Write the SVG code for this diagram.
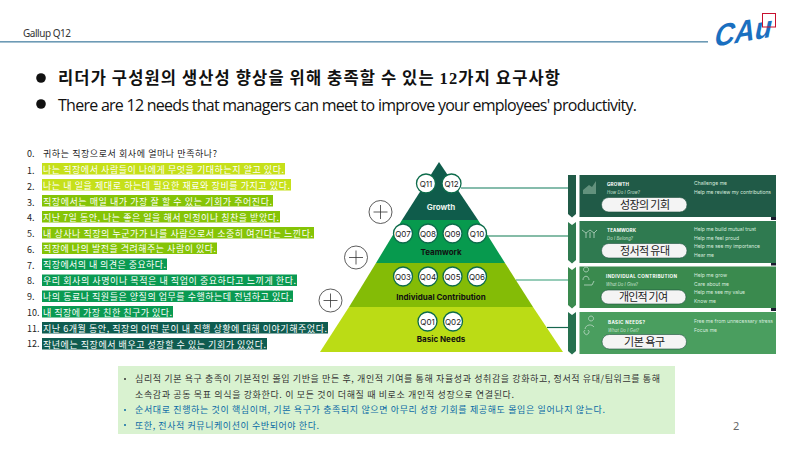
<svg xmlns="http://www.w3.org/2000/svg" width="800" height="450" viewBox="0 0 800 450">
<style>
text{font-family:"Noto Sans CJK KR","Noto Sans",sans-serif}
.num{font-size:9px;fill:#222}
.q{font-size:9px;fill:#fff}
.c{fill:#fff;stroke:#0c6b4a;stroke-width:1.3}
.ql{font-family:"Inter","Noto Sans",sans-serif;font-size:8px;font-weight:400;fill:#222;text-anchor:middle}
.lvl{font-family:"Inter","Noto Sans",sans-serif;font-size:8px;font-weight:700;text-anchor:middle}
.plus{fill:#fff;stroke:#333;stroke-width:.8}
.pl{stroke:#333;stroke-width:.8;fill:none}
.pt{font-family:"Inter","Noto Sans",sans-serif;font-size:4.6px;font-weight:700;fill:#fff}
.ps{font-family:"Inter","Noto Sans",sans-serif;font-size:4.2px;font-style:italic;fill:#cfe6d6}
.pr{font-family:"Inter","Noto Sans",sans-serif;font-size:5px;fill:#d8ecdf}
.pill{fill:#f4f4f4;stroke:#1c4f3e;stroke-width:.6}
.pk{font-size:11px;fill:#222}
.ic{fill:none;stroke:#bcd8c6;stroke-width:.8}
.b{font-size:9px;fill:#333}
.bb{font-size:9px;fill:#0a6aa5}
.lk{fill:none;stroke-width:1.2}
</style>
<rect width="800" height="450" fill="#fff"/>
<g id="header">
<text x="23" y="37" font-size="10" fill="#333" style="font-family:'Noto Sans',sans-serif" textLength="48">Gallup Q12</text>
<rect x="0" y="41" width="708" height="1.600" fill="#6d9ab5"/>
<text transform="translate(713 47) rotate(-10) skewX(-22)" font-size="30" font-weight="700" fill="#1a6fc0" style="font-family:'Liberation Sans',sans-serif" textLength="58" lengthAdjust="spacingAndGlyphs">CAu</text>
<rect x="762.500" y="13.500" width="13" height="13.500" fill="none" stroke="#c8102e" stroke-width="1"/>
</g>
<g id="title">
<circle cx="41" cy="78" r="4.800" fill="#111"/>
<text x="58" y="84" font-size="16.500" font-weight="700" fill="#111" textLength="502">리더가 구성원의 생산성 향상을 위해 충족할 수 있는 <tspan style="font-family:'Liberation Serif',serif">12</tspan>가지 요구사항</text>
<circle cx="41" cy="104" r="4.800" fill="#111"/>
<text x="58" y="111" font-size="16" fill="#111" style="font-family:'Open Sans',sans-serif" textLength="579">There are 12 needs that managers can meet to improve your employees' productivity.</text>
</g>
<g id="question-list">
<g fill="#c6e01a"><rect x="42" y="163" width="243" height="11.500"/><rect x="42" y="179" width="249" height="11.500"/></g>
<g fill="#85c406"><rect x="42" y="195" width="231" height="11.500"/><rect x="42" y="211" width="238" height="11.500"/><rect x="42" y="227" width="272" height="11.500"/><rect x="42" y="242.500" width="175" height="11.500"/></g>
<g fill="#0a9a52"><rect x="42" y="258.500" width="125" height="11.500"/><rect x="42" y="274.500" width="255" height="11.500"/><rect x="42" y="290.500" width="251" height="11.500"/><rect x="42" y="306" width="131" height="11.500"/></g>
<g fill="#0f5c50"><rect x="42" y="322" width="286" height="11.500"/><rect x="42" y="338" width="225" height="11.500"/></g>
<text class="num" x="27" y="157">0.</text><text x="43" y="157" font-size="9" fill="#222" textLength="174">귀하는 직장으로서 회사에 얼마나 만족하나?</text>
<text class="num" x="27" y="174">1.</text><text class="q" x="43" y="172.500" textLength="241">나는 직장에서 사람들이 나에게 무엇을 기대하는지 알고 있다.</text>
<text class="num" x="27" y="190">2.</text><text class="q" x="43" y="188.500" textLength="247">나는 내 일을 제대로 하는데 필요한 재료와 장비를 가지고 있다.</text>
<text class="num" x="27" y="206">3.</text><text class="q" x="43" y="204.500" textLength="229">직장에서는 매일 내가 가장 잘 할 수 있는 기회가 주어진다.</text>
<text class="num" x="27" y="221">4.</text><text class="q" x="43" y="220.500" textLength="236">지난 7일 동안, 나는 좋은 일을 해서 인정이나 칭찬을 받았다.</text>
<text class="num" x="27" y="237">5.</text><text class="q" x="43" y="236.500" textLength="270">내 상사나 직장의 누군가가 나를 사람으로서 소중히 여긴다는 느낀다.</text>
<text class="num" x="27" y="253">6.</text><text class="q" x="43" y="252" textLength="173">직장에 나의 발전을 격려해주는 사람이 있다.</text>
<text class="num" x="27" y="269">7.</text><text class="q" x="43" y="268" textLength="123">직장에서의 내 의견은 중요하다.</text>
<text class="num" x="27" y="284">8.</text><text class="q" x="43" y="284" textLength="253">우리 회사의 사명이나 목적은 내 직업이 중요하다고 느끼게 한다.</text>
<text class="num" x="27" y="300">9.</text><text class="q" x="43" y="300" textLength="249">나의 동료나 직원들은 양질의 업무를 수행하는데 전념하고 있다.</text>
<text class="num" x="27" y="316">10.</text><text class="q" x="43" y="315.500" textLength="129">내 직장에 가장 친한 친구가 있다.</text>
<text class="num" x="27" y="332">11.</text><text class="q" x="43" y="331.500" textLength="284">지난 6개월 동안, 직장의 어떤 분이 내 진행 상황에 대해 이야기해주었다.</text>
<text class="num" x="27" y="347">12.</text><text class="q" x="43" y="347.500" textLength="223">작년에는 직장에서 배우고 성장할 수 있는 기회가 있었다.</text>
</g>
<g id="connectors">
<path class="lk" stroke="#0f7a5a" d="M461 188H568"/>
<path class="lk" stroke="#0c7a50" d="M487 236H568"/>
<path class="lk" stroke="#2f9a72" d="M516 280H568"/>
<path class="lk" stroke="#17674f" d="M547 327.500H568"/>
</g>
<g id="pyramid-growth"><path d="M439 162L402 220H478Z" fill="#0f5c4b"/><text class="lvl" x="441" y="210" fill="#eaf3ee">Growth</text></g>
<g id="pyramid-teamwork"><path d="M402 220H478L505 263H376Z" fill="#079a4e"/><text class="lvl" x="441" y="255" fill="#111">Teamwork</text></g>
<g id="pyramid-individual"><path d="M376 263H505L533 307H349Z" fill="#84bc06"/><text class="lvl" x="441" y="300" fill="#111">Individual Contribution</text></g>
<g id="pyramid-basic"><path d="M349 307H533L563 352H320Z" fill="#bbdc15"/><text class="lvl" x="441" y="342" fill="#111">Basic Needs</text></g>
<g id="Q11"><circle class="c" cx="426" cy="183.500" r="9.500"/><text class="ql" x="426" y="186.500">Q11</text></g>
<g id="Q12"><circle class="c" cx="451.500" cy="183.500" r="9.500"/><text class="ql" x="451.500" y="186.500">Q12</text></g>
<g id="Q07"><circle class="c" cx="403" cy="233.500" r="9.500"/><text class="ql" x="403" y="236.500">Q07</text></g>
<g id="Q08"><circle class="c" cx="428" cy="233.500" r="9.500"/><text class="ql" x="428" y="236.500">Q08</text></g>
<g id="Q09"><circle class="c" cx="452.500" cy="233.500" r="9.500"/><text class="ql" x="452.500" y="236.500">Q09</text></g>
<g id="Q10"><circle class="c" cx="477" cy="233.500" r="9.500"/><text class="ql" x="477" y="236.500">Q10</text></g>
<g id="Q03"><circle class="c" cx="403" cy="276.500" r="9.500"/><text class="ql" x="403" y="279.500">Q03</text></g>
<g id="Q04"><circle class="c" cx="428" cy="276.500" r="9.500"/><text class="ql" x="428" y="279.500">Q04</text></g>
<g id="Q05"><circle class="c" cx="452.500" cy="276.500" r="9.500"/><text class="ql" x="452.500" y="279.500">Q05</text></g>
<g id="Q06"><circle class="c" cx="477" cy="276.500" r="9.500"/><text class="ql" x="477" y="279.500">Q06</text></g>
<g id="Q01"><circle class="c" cx="427.500" cy="321.500" r="9.500"/><text class="ql" x="427.500" y="324.500">Q01</text></g>
<g id="Q02"><circle class="c" cx="453" cy="321.500" r="9.500"/><text class="ql" x="453" y="324.500">Q02</text></g>
<g id="plus-1"><circle class="plus" cx="380.500" cy="212" r="11.500"/><path class="pl" d="M373.500 212H387.500M380.500 205V219"/></g>
<g id="plus-2"><circle class="plus" cx="356" cy="257.500" r="11.500"/><path class="pl" d="M349 257.500H363M356 250.500V264.500"/></g>
<g id="plus-3"><circle class="plus" cx="330.500" cy="300.500" r="11.500"/><path class="pl" d="M323.500 300.500H337.500M330.500 293.500V307.500"/></g>
<g id="panel-growth">
<path d="M568 175H576V214L572 217.500L568 214Z" fill="#205a47"/>
<rect x="579.500" y="175" width="196.500" height="42" fill="#205a47"/>
<rect x="771" y="217" width="5" height="3" fill="#1a1a2e"/>
<path d="M583 190L589 185L592 187L596 181V194H583Z" fill="#7fa894" opacity=".7"/>
<text class="pt" x="607" y="186" textLength="22">GROWTH</text><text class="ps" x="607" y="193.500" textLength="33">How Do I Grow?</text>
<text class="pr" x="694" y="185" textLength="33">Challenge me</text><text class="pr" x="694" y="194" textLength="77">Help me review my contributions</text>
<rect class="pill" x="601.500" y="197.500" width="85.500" height="14.500" rx="7.250"/><text class="pk" x="620" y="209" textLength="50">성장의 기회</text>
</g>
<g id="panel-teamwork">
<path d="M568 222L572 225L576 222V260L572 263.500L568 260Z" fill="#2f7a50"/>
<rect x="579.500" y="221" width="196.500" height="42" fill="#2f7a50"/>
<rect x="771" y="263" width="5" height="2.500" fill="#1a1a2e"/>
<path class="ic" d="M582 230L586 233L590 230L594 233L597 230M586 233V238M590 232V238M594 233V238"/>
<text class="pt" x="607" y="232" textLength="29">TEAMWORK</text><text class="ps" x="607" y="239.500" textLength="26">Do I Belong?</text>
<text class="pr" x="694" y="231" textLength="62">Help me build mutual trust</text><text class="pr" x="694" y="240" textLength="45">Help me feel proud</text><text class="pr" x="694" y="248" textLength="66">Help me see my importance</text><text class="pr" x="694" y="256.500" textLength="20">Hear me</text>
<rect class="pill" x="601.500" y="243.500" width="85.500" height="14.500" rx="7.250"/><text class="pk" x="620" y="255" textLength="50">정서적 유대</text>
</g>
<g id="panel-individual">
<path d="M568 267L572 270L576 267V305L572 308.500L568 305Z" fill="#3a8a4e"/>
<rect x="579.500" y="266.500" width="196.500" height="41.500" fill="#3a8a4e"/>
<rect x="771" y="308" width="5" height="3" fill="#1a1a2e"/>
<path class="ic" d="M586 272a2.500 2.500 0 1 1 .1 0M583 280c0-5 6-5 6 0M584 285H592L594 281"/>
<text class="pt" x="606" y="278" textLength="71">INDIVIDUAL CONTRIBUTION</text><text class="ps" x="606" y="285.500" textLength="32">What Do I Give?</text>
<text class="pr" x="694" y="277" textLength="33">Help me grow</text><text class="pr" x="694" y="286" textLength="35">Care about me</text><text class="pr" x="694" y="294" textLength="51">Help me see my value</text><text class="pr" x="694" y="303" textLength="22">Know me</text>
<rect class="pill" x="601" y="290" width="85" height="14" rx="7"/><text class="pk" x="619" y="301" textLength="49">개인적 기여</text>
</g>
<g id="panel-basic">
<path d="M568 312L572 315L576 312V351L572 354.500L568 351Z" fill="#26704f"/>
<rect x="579.500" y="312" width="196.500" height="42" fill="#4a9e5f"/>
<path class="ic" d="M591 321a2.500 2.500 0 1 1 .1 0M585 329c1-5 7-5 9-2M585 330a2.500 2.500 0 1 0 3 0"/>
<text class="pt" x="608" y="324" textLength="37">BASIC NEEDS?</text><text class="ps" x="608" y="331.500" textLength="31">What Do I Get?</text>
<text class="pr" x="694" y="323" textLength="79">Free me from unnecessary stress</text><text class="pr" x="694" y="332" textLength="23">Focus me</text>
<rect class="pill" x="602" y="334.500" width="84.500" height="14.500" rx="7.250"/><text class="pk" x="624" y="346" textLength="41">기본 욕구</text>
</g>
<g id="summary">
<rect x="118" y="366" width="557" height="68" fill="#d9f2d0"/>
<circle cx="125" cy="379" r="1" fill="#333"/>
<text class="b" x="135" y="382" textLength="525">심리적 기본 욕구 충족이 기본적인 몰입 기반을 만든 후, 개인적 기여를 통해 자율성과 성취감을 강화하고, 정서적 유대/팀워크를 통해</text>
<text class="b" x="135" y="397.500" textLength="379">소속감과 공동 목표 의식을 강화한다. 이 모든 것이 더해질 때 비로소 개인적 성장으로 연결된다.</text>
<circle cx="125" cy="410" r="1" fill="#0a6aa5"/>
<text class="bb" x="135" y="413" textLength="470">순서대로 진행하는 것이 핵심이며, 기본 욕구가 충족되지 않으면 아무리 성장 기회를 제공해도 몰입은 일어나지 않는다.</text>
<circle cx="125" cy="425" r="1" fill="#0a6aa5"/>
<text class="bb" x="135" y="428.500" textLength="184">또한, 전사적 커뮤니케이션이 수반되어야 한다.</text>
</g>
<text id="page" x="733" y="430" font-size="11" fill="#666" style="font-family:'Noto Sans',sans-serif">2</text>
</svg>
